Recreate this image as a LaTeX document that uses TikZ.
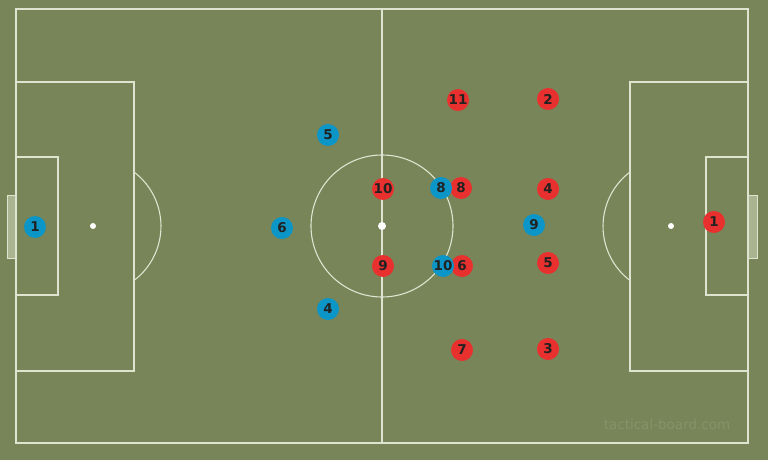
\documentclass[tikz,border=0pt]{standalone}
\usepackage{fontspec}
\newfontfamily\pfont{DejaVu Sans}
\definecolor{pitch}{RGB}{120,133,88}
\definecolor{pline}{RGB}{222,228,208}
\definecolor{goalfill}{RGB}{170,180,145}
\definecolor{pblue}{RGB}{12,150,200}
\definecolor{pred}{RGB}{232,49,47}
\definecolor{ptext}{RGB}{34,34,34}
\definecolor{wmark}{RGB}{134,146,104}
\begin{document}
\begin{tikzpicture}[x=1pt,y=-1pt,
  fieldline/.style={draw=pline,line width=1.1pt},
  goalbox/.style={draw=pline,fill=goalfill,line width=1pt},
  player/.style={circle,minimum size=22pt,inner sep=0pt,text=ptext,font=\pfont\bfseries\fontsize{13.5}{14}\selectfont},
  blue/.style={player,fill=pblue},
  red/.style={player,fill=pred}]
\useasboundingbox (0,0) rectangle (768,460);
\fill[pitch] (0,0) rectangle (768,460);
% goals
\draw[goalbox] (7,195) rectangle (16,258);
\draw[goalbox] (748,195) rectangle (757,258);
% outer
\draw[fieldline] (16,9) rectangle (748,443);
\draw[fieldline] (382,9) -- (382,443);
\draw[fieldline] (382,226) circle (71);
\fill[white] (382,226) circle (4);
% left
\draw[fieldline] (16,82) rectangle (134,371);
\draw[fieldline] (16,157) rectangle (58,295);
\fill[white] (93,226) circle (3);
\draw[fieldline] (134,172) arc[start angle=-52.9,end angle=52.9,radius=68];
% right
\draw[fieldline] (630,82) rectangle (748,371);
\draw[fieldline] (706,157) rectangle (748,295);
\fill[white] (671,226) circle (3);
\draw[fieldline] (630,172) arc[start angle=232.9,end angle=127.1,radius=68];
% watermark
\node[text=wmark,font=\pfont\fontsize{13.5}{14}\selectfont] (wm) at (667,424) {tactical-board.com};
% blue team
\node[blue] (b1) at (35,227) {1};
\node[blue] (b5) at (328,135) {5};
\node[blue] (b6) at (282,228) {6};
\node[blue] (b4) at (328,309) {4};
\node[blue] (b9) at (534,225) {9};
% red team
\node[red] (r11) at (458,100) {11};
\node[red] (r2) at (548,99) {2};
\node[red] (r10) at (383,189) {10};
\node[red] (r8) at (461,188) {8};
\node[red] (r4) at (548,189) {4};
\node[red] (r9) at (383,266) {9};
\node[red] (r6) at (462,266) {6};
\node[red] (r5) at (548,263) {5};
\node[red] (r7) at (462,350) {7};
\node[red] (r3) at (548,349) {3};
\node[red] (r1) at (714,222) {1};
% blue overlapping
\node[blue] (b8) at (441,188) {8};
\node[blue] (b10) at (443,266) {10};
\end{tikzpicture}
\end{document}
